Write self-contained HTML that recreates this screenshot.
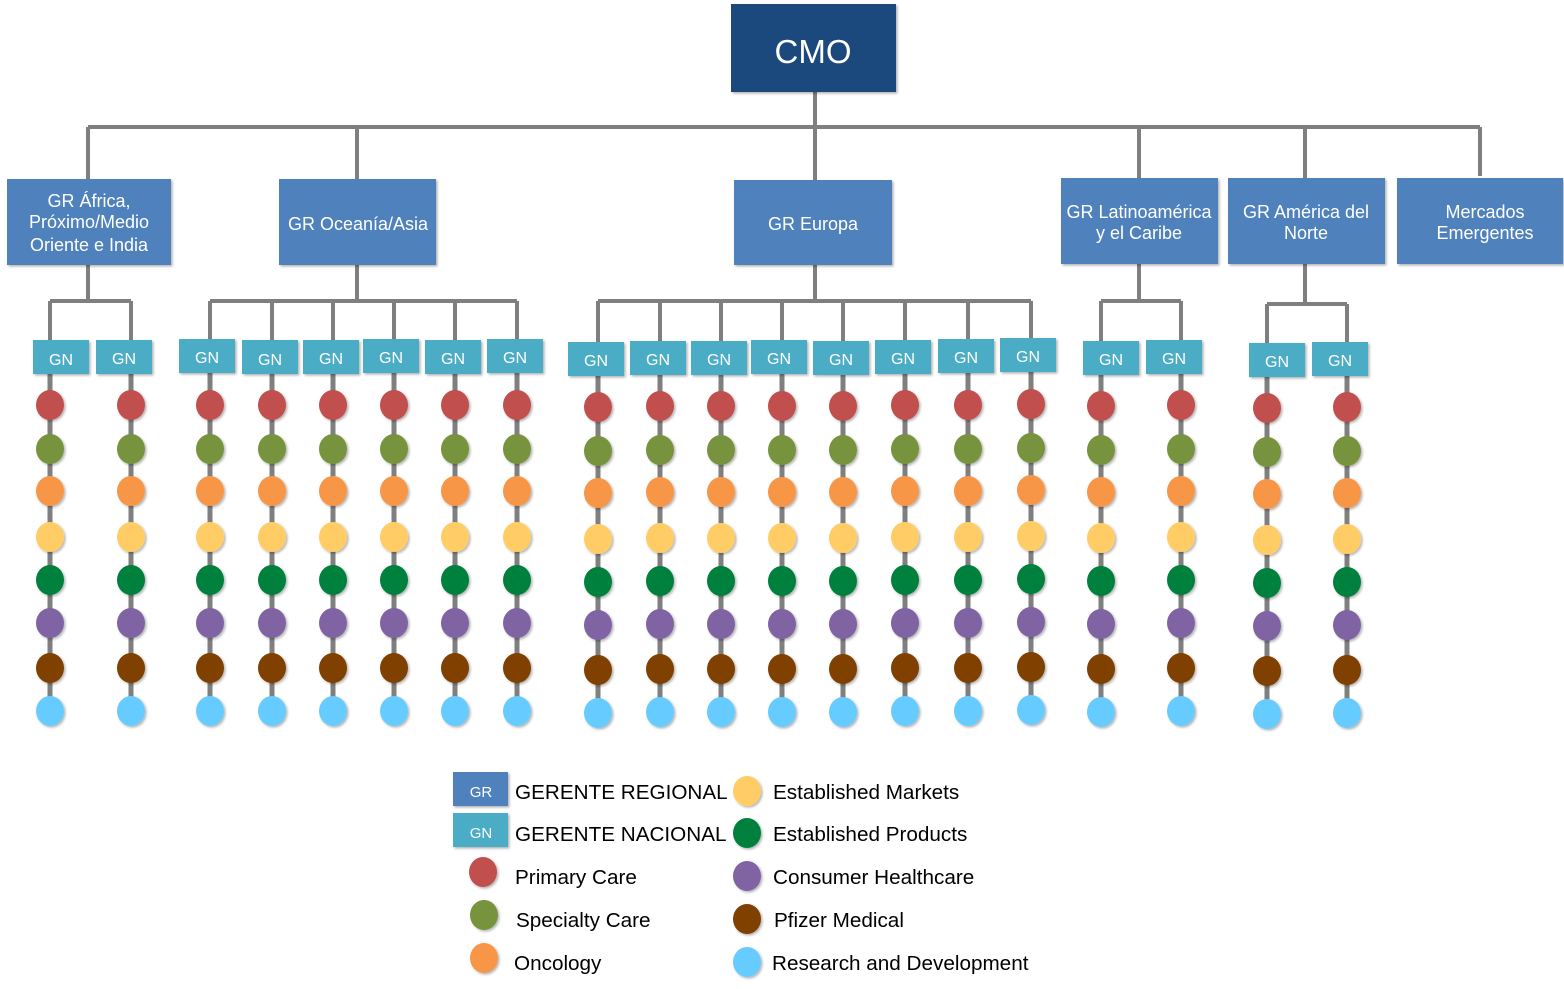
<!DOCTYPE html>
<html><head><meta charset="utf-8"><style>
html,body{margin:0;padding:0;background:#fff;width:1564px;height:989px;overflow:hidden}
svg{display:block}
text{font-family:"Liberation Sans","DejaVu Sans",sans-serif}
.w{fill:#fff}
</style></head><body>
<svg id="s" width="1564" height="989" viewBox="0 0 1564 989" xmlns="http://www.w3.org/2000/svg">
<defs><filter id="sh" x="-10%" y="-10%" width="130%" height="130%"><feDropShadow dx="1.5" dy="1.5" stdDeviation="1.2" flood-color="#000" flood-opacity="0.3"/></filter></defs>
<g stroke="#7f7f7f" stroke-width="4" fill="none">
<path d="M815 92V180M88 127H1480M88 127V180M357 127V180M1139 127V179M1305 127V179M1480 127V176"/>
<path d="M88 265V301M50 301H131M50 301V340M131 301V340"/>
<path d="M357 265V301M210 301H517"/>
<path d="M815 265V301M598 301H1031"/>
<path d="M1139 264V301M1101 301H1181"/>
<path d="M1305 264V304M1267 304H1347"/>
</g>
<g id="cols"></g>
<g filter="url(#sh)">
<rect x="731" y="4" width="165" height="88" fill="#1F497D"/>
<rect x="7" y="179" width="164" height="86" fill="#4F81BD"/>
<rect x="279" y="179" width="157" height="86" fill="#4F81BD"/>
<rect x="734" y="180" width="158" height="85" fill="#4F81BD"/>
<rect x="1061" y="178" width="157" height="86" fill="#4F81BD"/>
<rect x="1228" y="178" width="157" height="86" fill="#4F81BD"/>
<rect x="1397" y="178" width="166" height="86" fill="#4F81BD"/>
<rect x="453" y="772" width="55" height="34" fill="#4F81BD"/>
<rect x="453" y="813" width="55" height="34" fill="#4BACC6"/>
</g>
<g class="w" text-anchor="middle">
<text x="813" y="63" font-size="33">CMO</text>
<text x="89" y="207" font-size="18">GR  África,</text>
<text x="89" y="228" font-size="18">Próximo/Medio</text>
<text x="89" y="251" font-size="18">Oriente e India</text>
<text x="358" y="230" font-size="18">GR  Oceanía/Asia</text>
<text x="813" y="230" font-size="18">GR Europa</text>
<text x="1139" y="218" font-size="18">GR Latinoamérica</text>
<text x="1139" y="239" font-size="18">y el Caribe</text>
<text x="1306" y="218" font-size="18">GR América del</text>
<text x="1306" y="239" font-size="18">Norte</text>
<text x="1485" y="218" font-size="18">Mercados</text>
<text x="1485" y="239" font-size="18">Emergentes</text>
<text x="481" y="797" font-size="15">GR</text>
<text x="481" y="838" font-size="15">GN</text>
</g>
<g id="gn" filter="url(#sh)"></g>
<g class="w" text-anchor="middle" font-size="16">
<text x="61" y="365">GN</text><text x="124" y="364">GN</text>
<text x="207" y="363">GN</text><text x="270" y="365">GN</text><text x="331" y="364">GN</text><text x="391" y="363">GN</text><text x="453" y="364">GN</text><text x="515" y="363">GN</text>
<text x="596" y="366">GN</text><text x="658" y="365">GN</text><text x="719" y="365">GN</text><text x="779" y="364">GN</text><text x="841" y="365">GN</text><text x="903" y="364">GN</text><text x="966" y="363">GN</text><text x="1028" y="362">GN</text>
<text x="1111" y="365">GN</text><text x="1174" y="364">GN</text>
<text x="1277" y="367">GN</text><text x="1340" y="366">GN</text>
</g>
<g font-size="20.7" fill="#000">
<text x="515" y="799">GERENTE REGIONAL</text>
<text x="515" y="841">GERENTE NACIONAL</text>
<text x="515" y="884">Primary Care</text>
<text x="516" y="927">Specialty Care</text>
<text x="514" y="970">Oncology</text>
<text x="773" y="799">Established Markets</text>
<text x="773" y="841">Established Products</text>
<text x="773" y="884">Consumer Healthcare</text>
<text x="774" y="927">Pfizer Medical</text>
<text x="772" y="970">Research and Development</text>
</g>
<g id="leg" filter="url(#sh)">
<ellipse cx="483" cy="872" rx="14" ry="15" fill="#C0504D"/>
<ellipse cx="484" cy="915" rx="14" ry="15" fill="#77933C"/>
<ellipse cx="484" cy="958" rx="14" ry="15" fill="#F79646"/>
<ellipse cx="747" cy="791" rx="14" ry="15" fill="#FFCC66"/>
<ellipse cx="747" cy="833" rx="14" ry="15" fill="#00803E"/>
<ellipse cx="747" cy="876" rx="14" ry="15" fill="#8064A2"/>
<ellipse cx="747" cy="919" rx="14" ry="15" fill="#7F3F00"/>
<ellipse cx="747" cy="962" rx="14" ry="15" fill="#66CCFF"/>
</g>
</svg>
<script>
var NS="http://www.w3.org/2000/svg";
var cols=[[50,340,0,61],[131,340,0,124],[210,339,0,207],[272,340,0,270],[333,340,0,331],[394,339,0,391],[455,340,0,453],[517,339,0,515],
[598,342,2,596],[660,341,1,658],[721,341,1,719],[782,340,1,779],[843,341,1,841],[905,340,0,903],[968,339,0,966],[1031,338,-1,1028],
[1101,341,1,1111],[1181,340,0,1174],[1267,343,3,1277],[1347,342,2,1340]];
var rows=[405,449,491,537,580,623,668,711];
var cl=["#C0504D","#77933C","#F79646","#FFCC66","#00803E","#8064A2","#7F3F00","#66CCFF"];
var g=document.getElementById("cols"),gn=document.getElementById("gn");
function el(t,a,p){var e=document.createElementNS(NS,t);for(var k in a)e.setAttribute(k,a[k]);p.appendChild(e);return e;}
cols.forEach(function(c){
 var x=c[0],d=c[2],by=(x==1267||x==1347)?304:301;
 el("line",{x1:x,y1:by,x2:x,y2:c[1],stroke:"#7f7f7f","stroke-width":4},g);
 el("line",{x1:x,y1:c[1]+34,x2:x,y2:rows[7]+d,stroke:"#7f7f7f","stroke-width":5},g);
 el("rect",{x:c[3]-28,y:c[1],width:56,height:34,fill:"#4BACC6"},gn);
});
var ccg=el("g",{filter:"url(#sh)"},g);
cols.forEach(function(c){rows.forEach(function(y,i){el("ellipse",{cx:c[0],cy:y+c[2],rx:14,ry:15,fill:cl[i]},ccg);});});
</script>
</body></html>
